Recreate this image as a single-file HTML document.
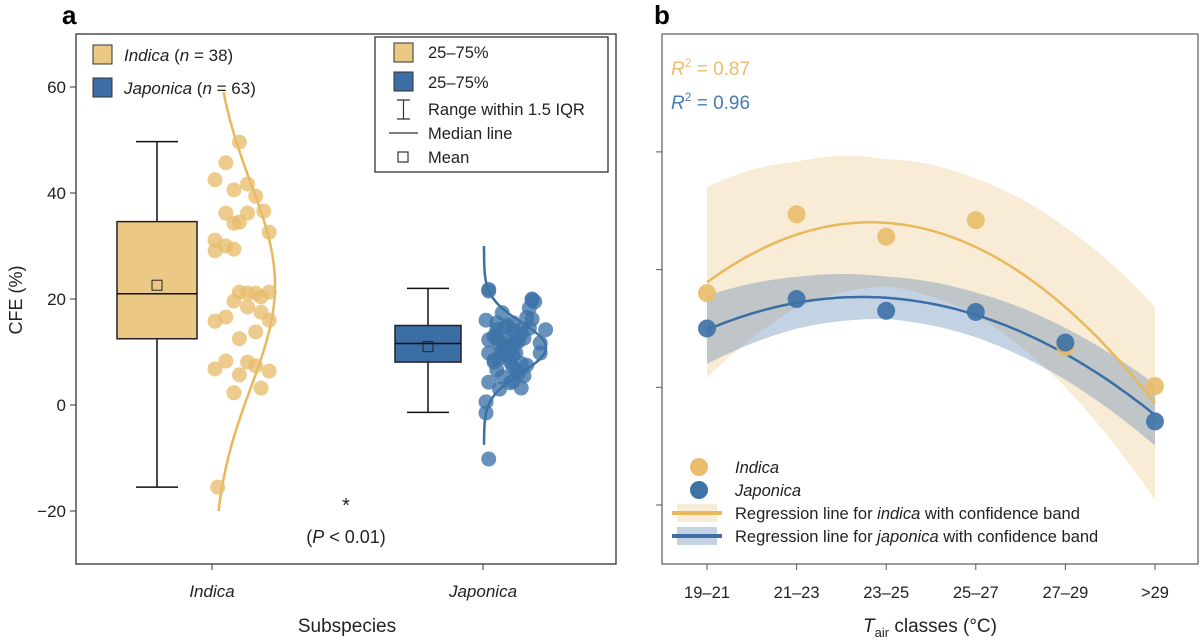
<!DOCTYPE html>
<html><head><meta charset="utf-8"><style>
body{margin:0;background:#fff;}
svg{display:block;font-family:"Liberation Sans",sans-serif;}
</style></head><body>
<svg id="chart" width="1200" height="640" viewBox="0 0 1200 640" xmlns="http://www.w3.org/2000/svg">
<text x="62" y="24" font-size="26" font-weight="bold">a</text>
<text x="654" y="24" font-size="26" font-weight="bold">b</text>
<g id="pa"></g>
<g id="pb"></g>
</svg>
<script>
// ---------- Panel a data ----------
const subspecies = ["Indica","Japonica"];
const indicaValues = [49.6,45.7,42.5,40.6,41.7,39.4,36.2,34.3,34.5,36.2,36.6,32.6,31.1,30,29.1,29.4,21.3,21.1,21.1,20.4,21.3,19.6,18.5,17.5,16,15.8,16.6,13.8,12.5,8.3,6.8,8.1,7.4,5.7,6.4,2.3,3.2,-15.5];
const indicaJitter = [0.09,0.04,0.0,0.07,0.12,0.15,0.04,0.07,0.09,0.12,0.18,0.2,0.0,0.04,0.0,0.07,0.09,0.12,0.15,0.17,0.2,0.07,0.12,0.17,0.2,0.0,0.04,0.15,0.09,0.04,0.0,0.12,0.15,0.09,0.2,0.07,0.17,0.01];
const japonicaValues = [21.5,19.8,18.3,17.4,16,16.2,14.2,15.5,14.7,14.2,14.2,12.3,12.8,12.6,11.7,11.3,11.3,9.8,9.8,9.8,9.8,8.1,8.1,7.5,6.6,6.6,4.3,5.3,3.2,4.2,0.6,-1.5,-10.2,21.8,19.5,20,13.5,15,14,13,12,11,10.5,10,9,8.5,7,6,5.5,15.5,16.5,12,11.5,13,14.5,10.2,9.5,8.8,7.8,12.5,11,3,4.5];
const japonicaJitter = [0.01,0.17,0.16,0.06,0.0,0.17,0.22,0.1,0.07,0.13,0.04,0.01,0.09,0.14,0.2,0.05,0.1,0.01,0.07,0.11,0.2,0.03,0.09,0.15,0.04,0.11,0.01,0.06,0.13,0.09,0.0,0.0,0.01,0.01,0.18,0.17,0.13,0.08,0.1,0.04,0.11,0.07,0.09,0.06,0.08,0.03,0.1,0.12,0.14,0.04,0.15,0.12,0.07,0.03,0.16,0.06,0.1,0.05,0.13,0.04,0.09,0.05,0.1];
const boxQ1 = [12.5, 8.1];
const boxQ3 = [34.6, 15];
const boxMedian = [21, 11.6];
const boxMean = [22.6, 11];
const whiskerLow = [-15.5, -1.4];
const whiskerHigh = [49.7, 22];
const curveLow = [-20, -7.5];
const curveHigh = [59, 30];
const yTicksA = [-20,0,20,40,60];

// ---------- Panel b data ----------
const tempClasses = ["19–21","21–23","23–25","25–27","27–29",">29"];
const indicaMeans = [18.0,24.7,22.8,24.2,13.4,10.1];
const japonicaMeans = [15.0,17.5,16.5,16.4,13.8,7.1];
const indicaBandHalf = [8.1,6.2,5.4,5.8,6.8,8.2];
const japonicaBandHalf = [2.9,2.2,1.8,1.9,2.2,2.6];
const yTicksB = [0,10,20,30];

const NS="http://www.w3.org/2000/svg";
function mk(parent,tag,attrs,text){const e=document.createElementNS(NS,tag);for(const k in attrs)e.setAttribute(k,attrs[k]);if(text!==undefined)e.textContent=text;parent.appendChild(e);return e;}

const TAN="#EBC985", TANP="#E8BD6C", TANL="#E8B85A", BLUE="#3A6EA5", BLUEP="#3E73A8";

// ===== Panel A =====
(function(){
const g=document.getElementById('pa');
const L=76,R=616,T=34,B=564;
const y=v=>405-v*5.3;
const xc=i=>212+i*271;
let e;
e=mk(g,'rect',{x:L,y:T,width:R-L,height:B-T,fill:'none',stroke:'#333','stroke-width':1.3});

yTicksA.forEach(t=>{
 e=mk(g,'line',{x1:L-6,x2:L,y1:y(t),y2:y(t),stroke:'#333'});
 
 e=mk(g,'text',{x:L-10,y:y(t)+6,'text-anchor':'end','font-size':17,fill:'#222'},t===-20?'−20':String(t));
 
});
e=mk(g,'text',{x:22,y:300,'text-anchor':'middle','font-size':18,fill:'#222',transform:'rotate(-90 22 300)'},'CFE (%)');

subspecies.forEach((s,i)=>{
 e=mk(g,'line',{x1:xc(i),x2:xc(i),y1:B,y2:B+6,stroke:'#333'});
 
 e=mk(g,'text',{x:xc(i),y:597,'text-anchor':'middle','font-size':17,'font-style':'italic',fill:'#222'},s);
 
});
e=mk(g,'text',{x:347,y:632,'text-anchor':'middle','font-size':19,fill:'#222'},'Subspecies');


const vals=[indicaValues,japonicaValues], jit=[indicaJitter,japonicaJitter];
const fills=[TAN,BLUE], pc=[TANP,BLUEP], lc=[TANL,BLUE], bw=[80,66];
for(let i=0;i<2;i++){
 const bx=xc(i)-55;
 e=mk(g,'line',{x1:bx,x2:bx,y1:y(whiskerLow[i]),y2:y(whiskerHigh[i]),stroke:'#111','stroke-width':1.5});
 
 [whiskerLow[i],whiskerHigh[i]].forEach(w=>{
  e=mk(g,'line',{x1:bx-21,x2:bx+21,y1:y(w),y2:y(w),stroke:'#111','stroke-width':1.5});
  
 });
 e=mk(g,'rect',{x:bx-bw[i]/2,y:y(boxQ3[i]),width:bw[i],height:y(boxQ1[i])-y(boxQ3[i]),fill:fills[i],stroke:'#222','stroke-width':1.5});
 
 e=mk(g,'line',{x1:bx-bw[i]/2,x2:bx+bw[i]/2,y1:y(boxMedian[i]),y2:y(boxMedian[i]),stroke:'#111','stroke-width':1.5});
 
 e=mk(g,'rect',{x:bx-5,y:y(boxMean[i])-5,width:10,height:10,fill:'none',stroke:'#222','stroke-width':1});
 
 // density curve
 const v=vals[i],n=v.length,m=v.reduce((a,b)=>a+b,0)/n;
 const sd=Math.sqrt(v.reduce((a,b)=>a+(b-m)*(b-m),0)/n)*(i===0?1.35:0.85);
 let d='';
 for(let k=0;k<=100;k++){const t=curveLow[i]+(curveHigh[i]-curveLow[i])*k/100;
  const px=xc(i)+1+62*Math.exp(-(t-m)*(t-m)/(2*sd*sd));d+=(k?'L':'M')+px.toFixed(1)+','+y(t).toFixed(1);}
 e=mk(g,'path',{d:d,fill:'none',stroke:lc[i],'stroke-width':2.5});
 
 v.forEach((val,k)=>{
  e=mk(g,'circle',{cx:xc(i)+3+jit[i][k]*271,cy:y(val),r:7.5,fill:pc[i],'fill-opacity':0.78});
  
 });
}
e=mk(g,'text',{x:346,y:512,'text-anchor':'middle','font-size':20,fill:'#222'},'*');

e=mk(g,'text',{x:346,y:543,'text-anchor':'middle','font-size':18,fill:'#222'});
e.innerHTML='(<tspan font-style="italic">P</tspan> &lt; 0.01)';

// legend 1
[['Indica','38',TAN,55],['Japonica','63',BLUE,88]].forEach(r=>{
 e=mk(g,'rect',{x:93,y:r[3]-10,width:19,height:19,fill:r[2],stroke:'#333'});
 
 e=mk(g,'text',{x:124,y:r[3]+6,'font-size':17,fill:'#222'});
 e.innerHTML='<tspan font-style="italic">'+r[0]+'</tspan> (<tspan font-style="italic">n</tspan> = '+r[1]+')';
 
});
// legend 2
e=mk(g,'rect',{x:375,y:37,width:233,height:135,fill:'#fff',stroke:'#222','stroke-width':1.2});

e=mk(g,'rect',{x:394,y:43,width:19,height:19,fill:TAN,stroke:'#333'});
e=mk(g,'rect',{x:394,y:72,width:19,height:19,fill:BLUE,stroke:'#333'});
e=mk(g,'path',{d:'M397,100H410M403.5,100V119M397,119H410',stroke:'#333',fill:'none','stroke-width':1.2});
e=mk(g,'line',{x1:389,x2:418,y1:133,y2:133,stroke:'#333','stroke-width':1.2});
e=mk(g,'rect',{x:398,y:152,width:10,height:10,fill:'none',stroke:'#333','stroke-width':1.2});
[['25–75%',58],['25–75%',88],['Range within 1.5 IQR',115],['Median line',139],['Mean',163]].forEach(r=>{
 e=mk(g,'text',{x:428,y:r[1],'font-size':16.5,fill:'#222'},r[0]);
 
});
})();

// ===== Panel B =====
(function(){
const g=document.getElementById('pb');
const L=662,R=1198,T=34,B=564;
const x=i=>707+i*89.6;
const y=v=>505-v*11.77;
let e;
e=mk(g,'rect',{x:L,y:T,width:R-L,height:B-T,fill:'none',stroke:'#666','stroke-width':1.3});

yTicksB.forEach(t=>{e=mk(g,'line',{x1:L-6,x2:L,y1:y(t),y2:y(t),stroke:'#555'});
 });
tempClasses.forEach((c,i)=>{
 e=mk(g,'line',{x1:x(i),x2:x(i),y1:B,y2:B+6,stroke:'#555'});
 
 e=mk(g,'text',{x:x(i),y:598,'text-anchor':'middle','font-size':16.5,fill:'#222'},c);
 
});
e=mk(g,'text',{x:930,y:632,'text-anchor':'middle','font-size':19,fill:'#222'});
e.innerHTML='<tspan font-style="italic">T</tspan><tspan font-size="13" dy="5">air</tspan><tspan dy="-5"> classes (°C)</tspan>';


function fit(v){ // quadratic least squares
 const n=v.length;let S=[0,0,0,0,0],Ty=[0,0,0];
 for(let i=0;i<n;i++){for(let p=0;p<5;p++)S[p]+=Math.pow(i,p);for(let p=0;p<3;p++)Ty[p]+=v[i]*Math.pow(i,p);}
 const A=[[S[0],S[1],S[2],Ty[0]],[S[1],S[2],S[3],Ty[1]],[S[2],S[3],S[4],Ty[2]]];
 for(let c=0;c<3;c++){for(let r=c+1;r<3;r++){const f=A[r][c]/A[c][c];for(let k=c;k<4;k++)A[r][k]-=f*A[c][k];}}
 const s=[0,0,0];for(let r=2;r>=0;r--){let t=A[r][3];for(let k=r+1;k<3;k++)t-=A[r][k]*s[k];s[r]=t/A[r][r];}
 return t=>s[0]+s[1]*t+s[2]*t*t;
}
function half(h,t){const i=Math.min(Math.floor(t),h.length-2),f=t-i;return h[i]*(1-f)+h[i+1]*f;}
const series=[[indicaMeans,indicaBandHalf,'rgba(235,193,120,0.3)',TANL,TANP,'indica'],[japonicaMeans,japonicaBandHalf,'rgba(58,110,165,0.3)',BLUE,BLUEP,'japonica']];
const fits=series.map(s=>fit(s[0]));
series.forEach((s,si)=>{
 const f=fits[si],N=s[0].length-1;let up='',lo='',ln='';
 for(let k=0;k<=100;k++){const t=N*k/100;up+=(k?'L':'M')+x(t).toFixed(1)+','+y(f(t)+half(s[1],t)).toFixed(1);}
 for(let k=100;k>=0;k--){const t=N*k/100;lo+='L'+x(t).toFixed(1)+','+y(f(t)-half(s[1],t)).toFixed(1);}
 e=mk(g,'path',{d:up+lo+'Z',fill:s[2]});
 
});
series.forEach((s,si)=>{
 const f=fits[si],N=s[0].length-1;let ln='';
 for(let k=0;k<=100;k++){const t=N*k/100;ln+=(k?'L':'M')+x(t).toFixed(1)+','+y(f(t)).toFixed(1);}
 e=mk(g,'path',{d:ln,fill:'none',stroke:s[3],'stroke-width':2.5});
 
});
series.forEach(s=>{
 s[0].forEach((v,i)=>{e=mk(g,'circle',{cx:x(i),cy:y(v),r:9,fill:s[4],'fill-opacity':0.92});
  });
});
e=mk(g,'text',{x:671,y:75,'font-size':19,fill:'#E8BD6C'});
e.innerHTML='<tspan font-style="italic">R</tspan><tspan font-size="12" dy="-8">2</tspan><tspan dy="8"> = 0.87</tspan>';

e=mk(g,'text',{x:671,y:109,'font-size':19,fill:'#4A7CAE'});
e.innerHTML='<tspan font-style="italic">R</tspan><tspan font-size="12" dy="-8">2</tspan><tspan dy="8"> = 0.96</tspan>';

// legend
e=mk(g,'circle',{cx:699,cy:467,r:9,fill:TANP});
e=mk(g,'circle',{cx:699,cy:490,r:9,fill:BLUEP});
e=mk(g,'rect',{x:677,y:504,width:40,height:18,fill:'rgba(235,193,120,0.3)'});
e=mk(g,'line',{x1:672,x2:722,y1:513,y2:513,stroke:TANL,'stroke-width':4});
e=mk(g,'rect',{x:677,y:527,width:40,height:18,fill:'rgba(58,110,165,0.3)'});
e=mk(g,'line',{x1:672,x2:722,y1:536,y2:536,stroke:BLUE,'stroke-width':4});
[['<tspan font-style="italic">Indica</tspan>',473],['<tspan font-style="italic">Japonica</tspan>',496],
 ['Regression line for <tspan font-style="italic">indica</tspan> with confidence band',519],
 ['Regression line for <tspan font-style="italic">japonica</tspan> with confidence band',542]].forEach(r=>{
 e=mk(g,'text',{x:735,y:r[1],'font-size':16.5,fill:'#222'});e.innerHTML=r[0];
 
});
})();
</script>
</body></html>
